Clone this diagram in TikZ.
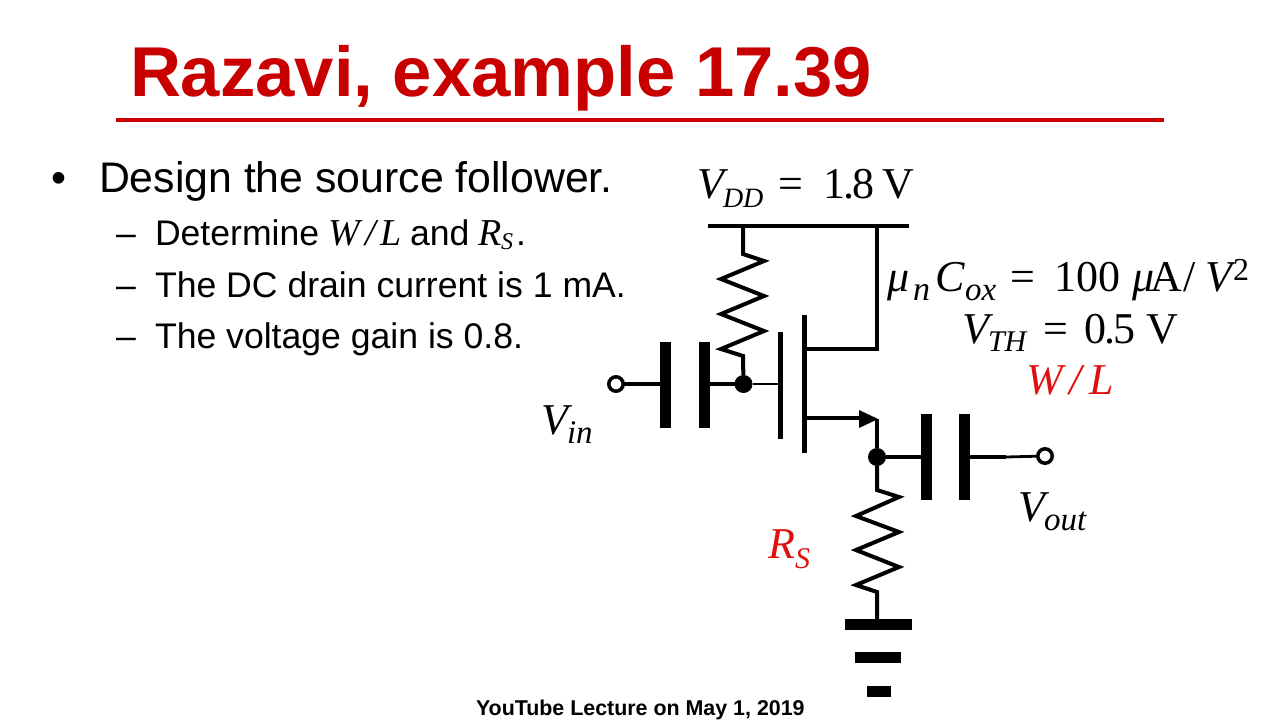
\documentclass[tikz,border=0pt]{standalone}
\usepackage{fontspec}
\setmainfont{Liberation Sans}
\newfontfamily\mathf{Liberation Serif}
\newcommand{\fs}[1]{\fontsize{#1}{#1}\selectfont}
\newcommand{\cl}[2]{\makebox[\dimexpr #1pt/2\relax][l]{#2}}
\newcommand{\iv}[1]{{\mathf\itshape #1}}
\newcommand{\rv}[1]{{\mathf #1}}
\newcommand{\sbs}[3]{\raisebox{-#2pt}{\fontsize{#1}{#1}\selectfont\mathf\itshape #3}}
\definecolor{titlered}{HTML}{C80000}
\definecolor{mathred}{HTML}{E01010}
\tikzset{
  x=0.5pt,y=-0.5pt,
  txt/.style={anchor=base west,inner sep=0pt,outer sep=0pt,align=left},
  wire/.style={line width=1.75pt,line cap=butt,line join=miter},
  thinwire/.style={line width=1.4pt},
  zig/.style={line width=2pt,line join=miter,line cap=butt},
  plate/.style={fill=black,draw=none,rectangle,inner sep=0pt,outer sep=0pt},
  dot/.style={circle,fill=black,draw=none,minimum size=9pt,inner sep=0pt,outer sep=0pt},
  port/.style={circle,fill=white,draw=black,line width=1.75pt,minimum size=7.2pt,inner sep=0pt,outer sep=0pt}
}
\begin{document}
\begin{tikzpicture}
\useasboundingbox (0,0) rectangle (1280,720);
% title
\node[txt,text=titlered] (title) at (130,96) {\fs{35.3}\bfseries Razavi, example 17.39};
\coordinate (ruleL) at (116,120); \coordinate (ruleR) at (1164,120);
\draw[line width=1.9pt,color=titlered] (ruleL) -- (ruleR);
% bullets
\node[txt] (b0) at (51,192) {\fs{21.4}•};
\node[txt] (t0) at (99,192) {\fs{21.4}Design the source follower.};
\node[txt] (d1) at (116,245) {\fs{17.8}–};
\node[txt] (t1) at (155,245) {\fs{17.8}\cl{173}{Determine}\cl{38}{\iv{\fs{19}W}}\cl{15}{\iv{\fs{19}/}}\cl{29}{\iv{\fs{19}L}}\cl{68}{and}\cl{23}{\iv{\fs{19}R}}\cl{15}{\sbs{12}{2}{S}}.};
\node[txt] (d2) at (116,297) {\fs{17.8}–};
\node[txt] (t2) at (155,297) {\fs{17.8}The DC drain current is 1 mA.};
\node[txt] (d3) at (116,348) {\fs{17.8}–};
\node[txt] (t3) at (155,348) {\fs{17.8}The voltage gain is 0.8.};
% labels
\node[txt] (vdd) at (697,198) {\fs{22}\cl{26}{\iv{V}}\cl{55}{\sbs{14}{4.5}{DD}}\cl{46}{\rv{=}}\cl{59}{\rv{1\kern-1.2pt.\kern-1.2pt8}}\rv{V}};
\node[txt] (mu) at (887,291) {\fs{22}\cl{26}{\iv{μ}}\cl{22}{\sbs{17}{4.5}{n}}\cl{30}{\iv{C}}\cl{45}{\sbs{16.5}{4.5}{ox}}\cl{44}{\rv{=}}\cl{78}{\rv{100}}\cl{18}{\iv{μ}}\cl{34}{\rv{A}}\cl{21}{\rv{/}}\cl{28}{\iv{V}}\raisebox{5.5pt}{\fs{16}\rv{2}}};
\node[txt] (vth) at (962,343) {\fs{22}\cl{26}{\iv{V}}\cl{55}{\sbs{15}{4}{TH}}\cl{42}{\rv{=}}\cl{62}{\rv{0\kern-1.2pt.\kern-1.2pt5}}\rv{V}};
\node[txt,text=mathred] (wl) at (1026,394) {\fs{22}\cl{44}{\iv{W}}\cl{20}{\iv{/}}\iv{L}};
\node[txt] (vin) at (541,434) {\fs{22}\cl{26}{\iv{V}}\sbs{16.5}{4.5}{in}};
\node[txt] (vout) at (1018,521) {\fs{22}\cl{26}{\iv{V}}\sbs{16.5}{4.5}{out}};
\node[txt,text=mathred] (rs) at (768,558) {\fs{22}\cl{27}{\iv{R}}\sbs{15}{5}{S}};
\node[txt] (foot) at (476,715) {\fs{10.7}\bfseries YouTube Lecture on May 1, 2019};
% supply rail and junctions
\coordinate (railL) at (708,226); \coordinate (railR) at (909,226);
\coordinate (rail1) at (743,226); \coordinate (rail2) at (877,226);
\draw[wire] (railL) -- (railR);
% input
\node[port] (in) at (616,384) {};
\node[plate,minimum width=5.5pt,minimum height=43pt] (c1a) at (665.5,385) {};
\node[plate,minimum width=5.5pt,minimum height=43pt] (c1b) at (704.5,385) {};
\node[dot] (gj) at (743.5,384) {};
\node[plate,minimum width=2.25pt,minimum height=53.5pt] (gate) at (780.5,385.5) {};
\node[plate,minimum width=2.25pt,minimum height=69pt] (chan) at (804.5,384) {};
\draw[wire] (in) -- (c1a.west |- in);
\draw[wire] (c1b.east |- gj) -- (gj);
\draw[thinwire] (gj) -- (gate.west |- gj);
% gate bias resistor
\draw[zig] (rail1) -- (743,254) -- (764,261) -- (721,279) -- (764,296) -- (721,314) -- (764,331) -- (721,349) -- (743,356) -- (gj);
% transistor
\coordinate (dr) at (877,349); \coordinate (srcT) at (877,419);
\draw[wire] (chan.east |- dr) -- (dr) -- (rail2);
\draw[wire] (chan.east |- srcT) ++(0,-1) -- (860,418);
\fill (859,410) -- (878,419) -- (859,428) -- cycle;
\node[dot] (sj) at (877,457) {};
\draw[wire] (srcT) -- (sj);
% output
\node[plate,minimum width=5.5pt,minimum height=43pt] (c2a) at (926.5,457) {};
\node[plate,minimum width=5.5pt,minimum height=43pt] (c2b) at (964.5,457) {};
\node[port] (out) at (1045,456) {};
\draw[wire] (sj) -- (c2a.west |- sj);
\coordinate (stub) at (1006,457);
\draw[wire] (c2b.east |- stub) -- (stub);
\draw[thinwire] (stub) -- (out);
% source resistor and ground
\node[plate,minimum width=33.5pt,minimum height=5.5pt] (g1) at (878.5,624.5) {};
\node[plate,minimum width=23pt,minimum height=5.5pt] (g2) at (878,657.5) {};
\node[plate,minimum width=12pt,minimum height=5.5pt] (g3) at (879,691.5) {};
\draw[zig] (sj) -- (877,490) -- (899,497) -- (856,516) -- (899,532) -- (856,550) -- (899,567) -- (856,585) -- (877,592) -- (g1.north -| 877,0);
\end{tikzpicture}
\end{document}
